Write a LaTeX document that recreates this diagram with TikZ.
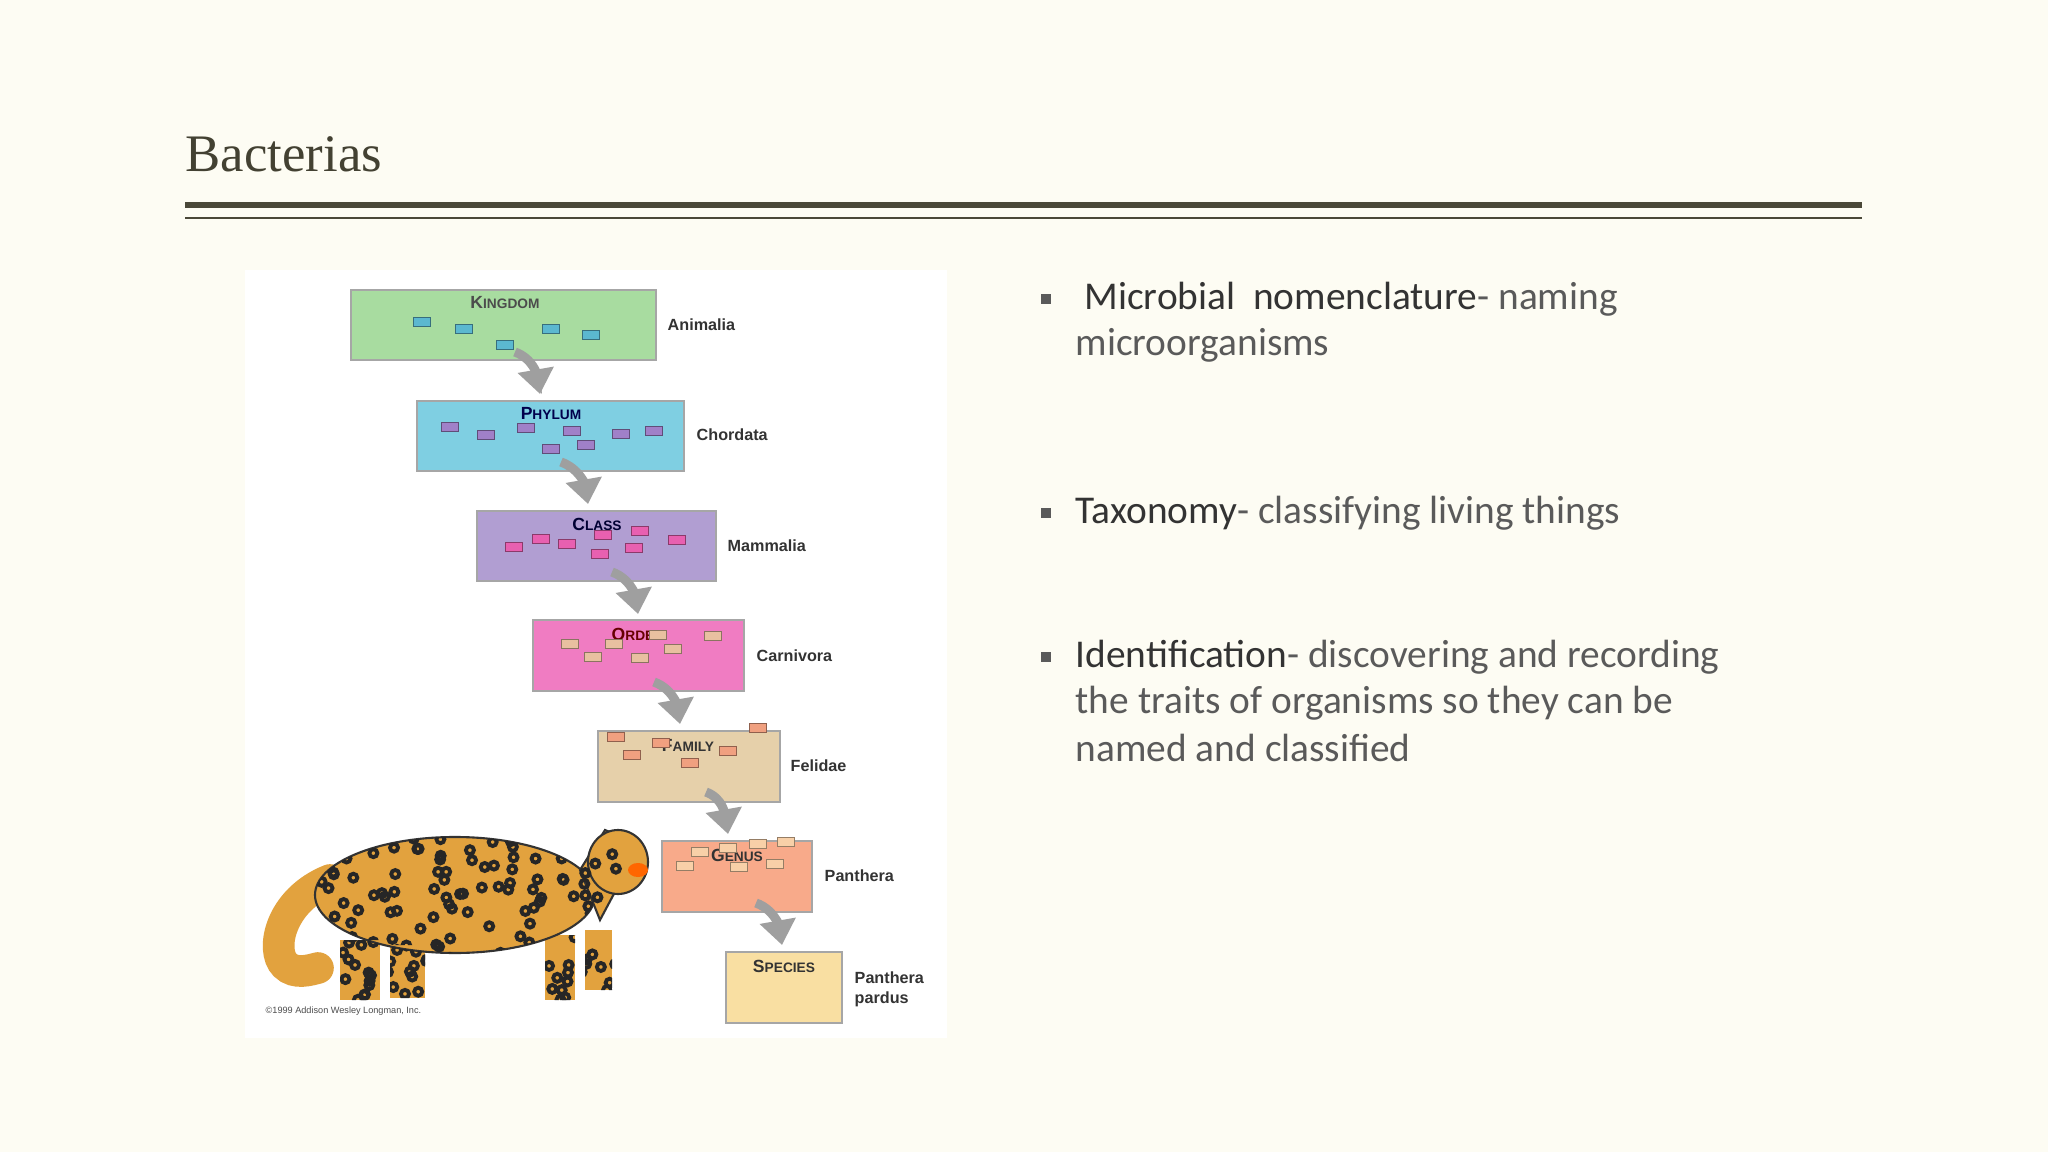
\documentclass[tikz,border=0pt]{standalone}
\usepackage{fontspec}
\setmainfont{Carlito}
\newfontfamily\titlefont{Liberation Serif}
\newfontfamily\labfont{Liberation Sans}
\usetikzlibrary{arrows.meta}
\definecolor{bg}{HTML}{FDFCF3}
\definecolor{rule}{HTML}{4A4838}
\definecolor{txt}{HTML}{5A5A5A}
\definecolor{kw}{HTML}{333333}
\definecolor{kg}{HTML}{A8DCA0}
\definecolor{ph}{HTML}{7FCFE2}
\definecolor{cl}{HTML}{B19ED2}
\definecolor{od}{HTML}{F07CC2}
\definecolor{fm}{HTML}{E6D0AA}
\definecolor{gn}{HTML}{F8AA8A}
\definecolor{sp}{HTML}{F9DFA2}
\definecolor{leo}{HTML}{E2A23E}
\definecolor{ska}{HTML}{5BB8D0}
\definecolor{skb}{HTML}{A080C8}
\definecolor{skc}{HTML}{E860B0}
\definecolor{skd}{HTML}{E8C0A0}
\definecolor{ske}{HTML}{F0A080}
\definecolor{skf}{HTML}{F8D0A8}
\newcommand{\capsc}[2]{{\fontsize{5}{6}\selectfont #1}{\fontsize{3.9}{6}\selectfont #2}}
\tikzset{
  tbox/.style={draw=gray!70, line width=0.4pt, inner sep=0pt},
  smr/.style={draw=#1!60!black, fill=#1, line width=0.4pt, minimum width=0.17cm, minimum height=0.085cm, inner sep=0pt},
  hd/.style={font=\labfont\bfseries, text=black!80, inner sep=0pt},
  lab/.style={font=\labfont\bfseries\fontsize{4.6}{5.6}\selectfont, text=black!80, anchor=west, inner sep=0pt, align=left},
  garr/.style={draw=gray!75, line width=2.6pt, -{Triangle[length=7pt,width=10pt]}},
  bul/.style={anchor=west, inner sep=0pt, text=txt, font=\fontsize{11.2}{13.2}\selectfont, align=left},
}
\begin{document}
\begin{tikzpicture}[x=0.01cm,y=-0.01cm]
\fill[bg] (0,0) rectangle (2048,1152);
\useasboundingbox (0,0) rectangle (2048,1152);
% title
\node[anchor=west, inner sep=0pt, text=rule!90!black, font=\titlefont\fontsize{15}{17}\selectfont] (title) at (185,154) {Bacterias};
\fill[rule] (185,202) rectangle (1862,208.5);
\fill[rule] (185,217) rectangle (1862,219);
% panel
\fill[white] (245,270) rectangle (947,1038);
% boxes
\node[tbox, fill=kg, minimum width=3.05cm, minimum height=0.70cm] (k) at (503.5,325) {};
\node[tbox, fill=ph, minimum width=2.67cm, minimum height=0.70cm] (p) at (550.5,436) {};
\node[tbox, fill=cl, minimum width=2.39cm, minimum height=0.70cm] (c) at (596.5,546) {};
\node[tbox, fill=od, minimum width=2.11cm, minimum height=0.71cm] (o) at (638.5,655.5) {};
\node[tbox, fill=fm, minimum width=1.82cm, minimum height=0.71cm] (f) at (689,766.5) {};
\node[tbox, fill=gn, minimum width=1.50cm, minimum height=0.71cm] (g) at (737,876.5) {};
\node[tbox, fill=sp, minimum width=1.16cm, minimum height=0.71cm] (s) at (784,987.5) {};
% headings
\node[hd, text=black!70] at (505,303) {\capsc{K}{INGDOM}};
\node[hd, text=blue!30!black] at (551,414) {\capsc{P}{HYLUM}};
\node[hd, text=blue!20!black] at (597,524) {\capsc{C}{LASS}};
\node[hd, text=red!40!black] at (638,634) {\capsc{O}{RDER}};
\node[hd] at (688,745) {\capsc{F}{AMILY}};
\node[hd] at (737,855) {\capsc{G}{ENUS}};
\node[hd] at (784,966) {\capsc{S}{PECIES}};
% small rects
\foreach \x/\y in {422/322,464/329,505/345,551/329,591/335} \node[smr=ska] at (\x,\y) {};
\foreach \x/\y in {450/427,486/435,526/428,572/431,551/449,586/445,621/434,654/431} \node[smr=skb] at (\x,\y) {};
\foreach \x/\y in {514/547,541/539,567/544,603/535,640/531,600/554,634/548,677/540} \node[smr=skc] at (\x,\y) {};
\foreach \x/\y in {570/644,614/644,658/635,593/657,640/658,673/649,713/636} \node[smr=skd] at (\x,\y) {};
\foreach \x/\y in {616/737,661/743,632/755,690/763,728/751,758/728} \node[smr=ske] at (\x,\y) {};
\foreach \x/\y in {700/852,728/848,758/844,786/842,685/866,739/867,775/864} \node[smr=skf] at (\x,\y) {};
% arrows
\draw[garr] (515,352) to[out=-20,in=100] (540,394);
\draw[garr] (561,462) to[out=-20,in=100] (588,504);
\draw[garr] (612,572) to[out=-20,in=100] (638,614);
\draw[garr] (654,682) to[out=-20,in=100] (680,724);
\draw[garr] (706,792) to[out=-20,in=100] (728,834);
\draw[garr] (756,903) to[out=-20,in=100] (782,945);
% labels
\node[lab] at (667,325) {Animalia};
\node[lab] at (696,435) {Chordata};
\node[lab] at (727,546) {Mammalia};
\node[lab] at (756,656) {Carnivora};
\node[lab] at (790,766) {Felidae};
\node[lab] at (824,876) {Panthera};
\node[lab] at (854,989) {Panthera\\pardus};
% leopard
\begin{scope}[draw=black!80, line width=0.6pt]
\draw[leo, line width=9pt, line cap=round] (330,880) .. controls (280,900) and (270,950) .. (285,965) .. controls (295,975) and (310,970) .. (318,968);
\fill[leo] (340,940) rectangle (380,1000);
\fill[leo] (390,945) rectangle (425,998);
\fill[leo] (545,935) rectangle (575,1000);
\fill[leo] (585,930) rectangle (612,990);
\filldraw[fill=leo] (455,895) ellipse (140 and 58);
\filldraw[fill=leo] (580,870) -- (605,830) -- (640,845) -- (600,920) -- cycle;
\filldraw[fill=leo] (618,862) ellipse (30 and 32);
\fill[orange!80!red] (638,870) ellipse (10 and 7);
\begin{scope}
\clip (455,895) ellipse (140 and 58) (580,870) -- (605,830) -- (640,845) -- (600,920) -- cycle (340,940) rectangle (380,1000) (390,945) rectangle (425,998) (545,935) rectangle (575,1000) (585,930) rectangle (612,990);
\pgfmathsetseed{7}
\foreach \i in {1,...,160} {
  \pgfmathsetmacro{\sx}{310+rnd*310}
  \pgfmathsetmacro{\sy}{830+rnd*170}
  \draw[black!85, line width=1.1pt] (\sx,\sy) circle (4);
}
\end{scope}
\end{scope}
\node[anchor=west, inner sep=0pt, font=\labfont\fontsize{2.6}{3}\selectfont, text=black!70] (copy) at (265,1011) {\textcopyright1999 Addison Wesley Longman, Inc.};
% bullets
\fill[txt] (1041,294) rectangle (1051,304);
\fill[txt] (1041,508) rectangle (1051,518);
\fill[txt] (1041,652) rectangle (1051,662);
\node[bul] (b1) at (1075,299) {\textcolor{kw}{\ Microbial\ \ nomenclature}- naming};
\node[bul] (b1b) at (1075,345) {microorganisms};
\node[bul] (b2) at (1075,513) {\textcolor{kw}{Taxonomy}- classifying living things};
\node[bul] (b3) at (1075,657) {\textcolor{kw}{Identification}- discovering and recording};
\node[bul] (b3b) at (1075,703) {the traits of organisms so they can be};
\node[bul] (b3c) at (1075,748) {named and classified};
\end{tikzpicture}
\end{document}
